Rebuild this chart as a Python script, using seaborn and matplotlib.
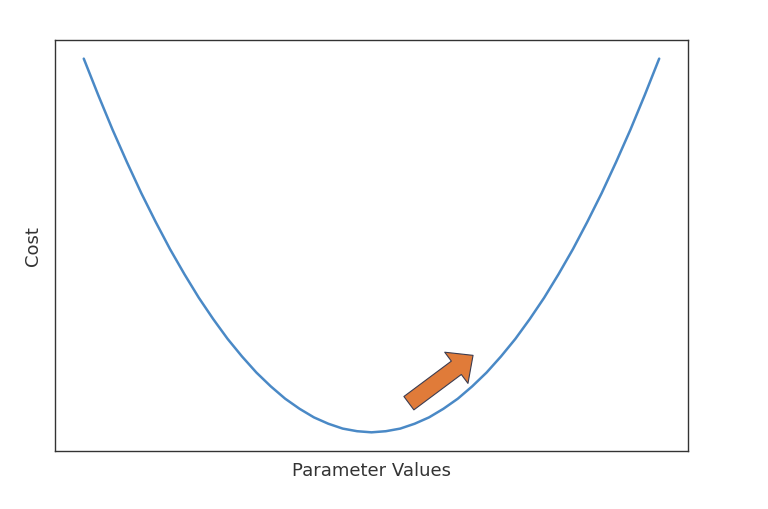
"""
Cost vs parameter values (gradient descent illustration)
"""

import numpy as np
import pandas as pd
import seaborn as sns
import matplotlib.pyplot as plt

# Curve: parameter values and the matching cost
param = [-1.00, -0.95, -0.90, -0.85, -0.80, -0.75, -0.70, -0.65, -0.60, -0.55,
         -0.50, -0.45, -0.40, -0.35, -0.30, -0.25, -0.20, -0.15, -0.10, -0.05,
         0.00, 0.05, 0.10, 0.15, 0.20, 0.25, 0.30, 0.35, 0.40, 0.45,
         0.50, 0.55, 0.60, 0.65, 0.70, 0.75, 0.80, 0.85, 0.90, 0.95, 1.00]
cost = [1.000, 0.903, 0.810, 0.723, 0.640, 0.563, 0.490, 0.423, 0.360, 0.303,
        0.250, 0.203, 0.160, 0.123, 0.090, 0.063, 0.040, 0.023, 0.010, 0.003,
        0.000, 0.003, 0.010, 0.023, 0.040, 0.063, 0.090, 0.123, 0.160, 0.203,
        0.250, 0.303, 0.360, 0.423, 0.490, 0.563, 0.640, 0.723, 0.810, 0.903, 1.000]

# Arrow showing the step direction (tail -> tip, data units)
arrow_tail = (0.130, 0.078)
arrow_tip = (0.353, 0.206)

df = pd.DataFrame({"Parameter Values": param, "Cost": cost})

sns.set_style("white")
plt.rcParams["font.family"] = ["DejaVu Sans"]

fig = plt.figure(figsize=(7.68, 5.10), dpi=100)
ax = fig.add_axes([0.0716, 0.1137, 0.8242, 0.806])

sns.lineplot(data=df, x="Parameter Values", y="Cost", ax=ax,
             color="#4a89c6", linewidth=1.8)

ax.annotate("", xy=arrow_tip, xytext=arrow_tail,
            arrowprops=dict(arrowstyle="simple,head_length=1.5,head_width=2.8,tail_width=1.2",
                            fc="#e07b39", ec="#3c3c50", lw=0.8,
                            shrinkA=0, shrinkB=0, mutation_scale=10))

ax.set_xticks([])
ax.set_yticks([])
ax.set_xlabel("Parameter Values", fontsize=13, color="#333333", labelpad=7)
ax.set_ylabel("Cost", fontsize=13, color="#333333", labelpad=9)

for spine in ax.spines.values():
    spine.set_color("#333333")
    spine.set_linewidth(1.0)

plt.savefig("out.png", dpi=100)
